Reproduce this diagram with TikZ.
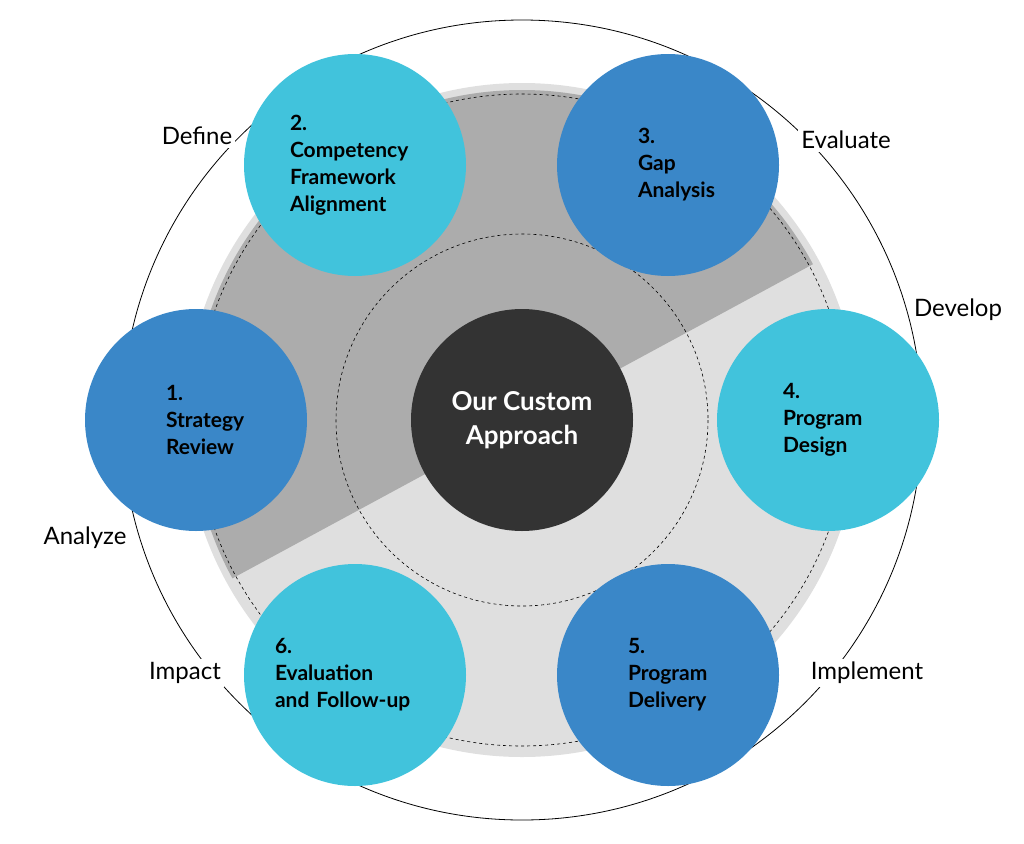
\documentclass[tikz,border=0pt]{standalone}
\usepackage{fontspec}
\setmainfont{Lato}
\begin{document}
\begin{tikzpicture}[x=1pt,y=-1pt,
  sat/.style={circle,minimum size=222pt,inner sep=0pt,text width=150pt,align=left,font=\fontsize{21}{27}\selectfont\bfseries,text=black},
  dblue/.style={sat,fill=dkb},
  lblue/.style={sat,fill=ltb},
  lab/.style={fill=white,inner sep=3pt,font=\fontsize{24}{28}\selectfont}]
\definecolor{dkb}{HTML}{3A87C8}
\definecolor{ltb}{HTML}{41C3DC}
\useasboundingbox (0,0) rectangle (1024,843);
\coordinate (c) at (522,420);
\draw[black,line width=0.8pt] (c) circle (400);
\fill[gray!25] (c) circle (337);
\begin{scope}
\clip (c) circle (330);
\fill[gray!65] (100,650) -- (950,190) -- (950,0) -- (100,0) -- cycle;
\end{scope}
\draw[dashed,line width=0.6pt] (c) circle (326);
\draw[dashed,line width=0.6pt] (c) circle (186);
\node[circle,fill=black!80,minimum size=222pt,text=white,align=center,font=\fontsize{26}{34}\selectfont\bfseries] (core) at (c) {Our Custom\\Approach};
\node[dblue] (s1) at (196,420) {\hspace*{45pt}1.\\\hspace*{45pt}Strategy\\\hspace*{45pt}Review};
\node[lblue] (s2) at (355,165) {\hspace*{10pt}2.\\\hspace*{10pt}Competency\\\hspace*{10pt}Framework\\\hspace*{10pt}Alignment};
\node[dblue] (s3) at (668,165) {\hspace*{45pt}3.\\\hspace*{45pt}Gap\\\hspace*{45pt}Analysis};
\node[lblue] (s4) at (828,420) {\hspace*{30pt}4.\\\hspace*{30pt}Program\\\hspace*{30pt}Design};
\node[dblue] (s5) at (668,675) {\hspace*{35pt}5.\\\hspace*{35pt}Program\\\hspace*{35pt}Delivery};
\node[lblue] (s6) at (355,675) {\hspace*{-5pt}6.\\\hspace*{-5pt}Evaluation\\\hspace*{-5pt}and Follow-up};
\node[lab] (l1) at (197,136) {Define};
\node[lab] (l2) at (846,140) {Evaluate};
\node[lab] (l3) at (958,310) {Develop};
\node[lab] (l4) at (85,538) {Analyze};
\node[lab] (l5) at (185,673) {Impact};
\node[lab] (l6) at (867,673) {Implement};
\end{tikzpicture}
\end{document}
